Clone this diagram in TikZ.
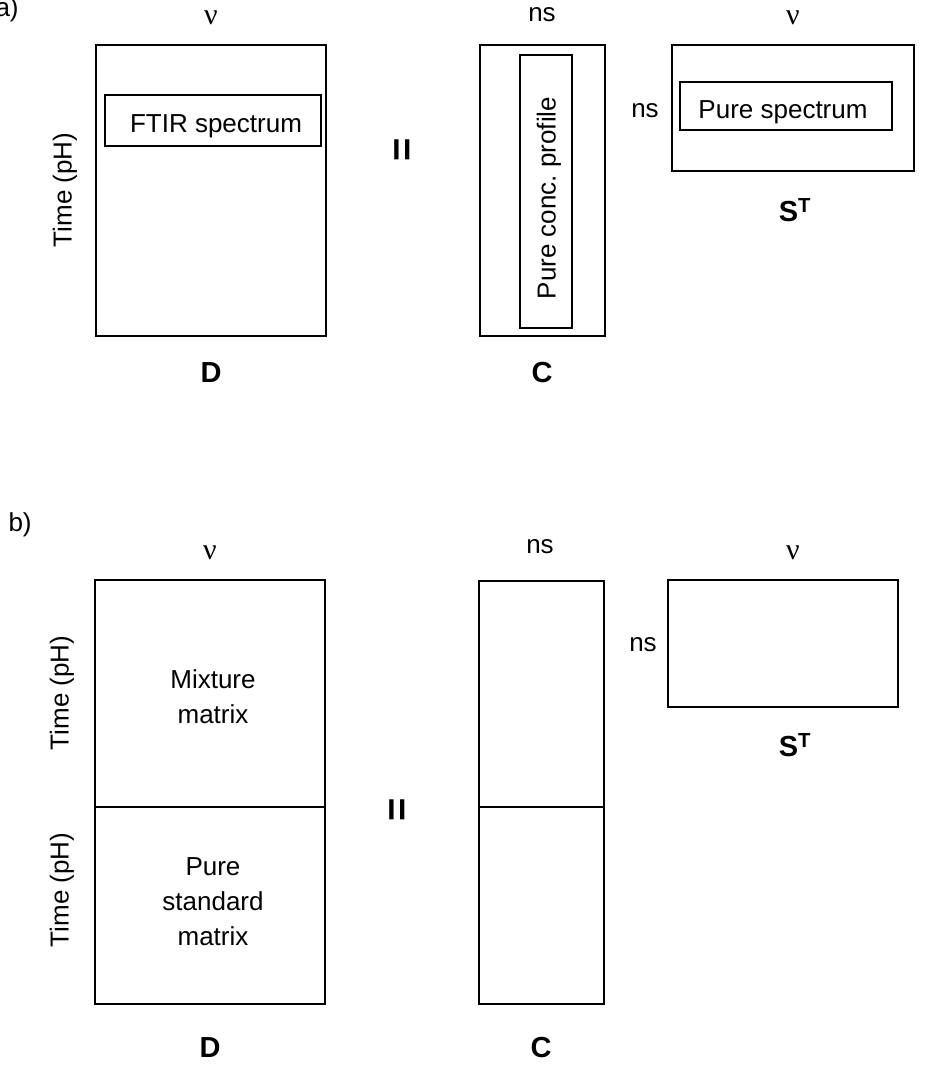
\documentclass[tikz,border=0pt]{standalone}
\usepackage{fontspec}
\setmainfont{Liberation Sans}
\newfontfamily\nufont{Liberation Serif}
\begin{document}
\begin{tikzpicture}[x=1pt,y=-1pt,
  mat/.style={draw,line width=1.1pt},
  lab/.style={font=\fontsize{26}{35}\selectfont},
  big/.style={font=\fontsize{29}{32}\selectfont\bfseries},
  eq/.style={font=\fontsize{40}{40}\selectfont\bfseries},
  nu/.style={font=\fontsize{30}{32}\selectfont\nufont}]
\useasboundingbox (0,0) rectangle (941,1070);
\node[lab,anchor=west] (la) at (-8,10) {a)};
\node[lab,anchor=west] (lb) at (5,525) {b)};
% panel a
\draw[mat] (96,45) rectangle (326,336);
\draw[mat] (105,95) rectangle (321,146);
\node[lab] (ftir) at (216,126) {FTIR spectrum};
\node[nu] (nua) at (211,18) {ν};
\node[lab,rotate=90] (ta) at (65,190) {Time (pH)};
\node[big] (Da) at (211,373) {D};
\node[eq,rotate=90] (eqa) at (405,150) {=};
\draw[mat] (480,45) rectangle (605,336);
\draw[mat] (520,55) rectangle (572,328);
\node[lab,rotate=90] (pc) at (549,198) {Pure conc.\ profile};
\node[lab] (nsa) at (542,15) {ns};
\node[big] (Ca) at (542,373) {C};
\draw[mat] (672,45) rectangle (914,171);
\draw[mat] (680,82) rectangle (892,130);
\node[lab] (ps) at (783,112) {Pure spectrum};
\node[lab] (nsa2) at (645,111) {ns};
\node[nu] (nua2) at (793,18) {ν};
\node[big] (Sa) at (795,210) {S$^{\mathbf{\scriptstyle T}}$};
% panel b
\draw[mat] (95,580) rectangle (325,1004);
\draw[line width=1.1pt] (95,807) -- (325,807);
\node[lab,align=center] (mix) at (213,697) {Mixture\\matrix};
\node[lab,align=center] (pure) at (213,902) {Pure\\standard\\matrix};
\node[lab,rotate=90] (tb1) at (62,693) {Time (pH)};
\node[lab,rotate=90] (tb2) at (62,890) {Time (pH)};
\node[nu] (nub) at (210,553) {ν};
\node[big] (Db) at (210,1048) {D};
\node[eq,rotate=90] (eqb) at (400,810) {=};
\draw[mat] (479,581) rectangle (604,1004);
\draw[line width=1.1pt] (479,807) -- (604,807);
\node[lab] (nsb) at (540,547) {ns};
\node[big] (Cb) at (541,1048) {C};
\draw[mat] (668,580) rectangle (898,707);
\node[lab] (nsb2) at (643,645) {ns};
\node[nu] (nub2) at (793,553) {ν};
\node[big] (Sb) at (795,745) {S$^{\mathbf{\scriptstyle T}}$};
\end{tikzpicture}
\end{document}
